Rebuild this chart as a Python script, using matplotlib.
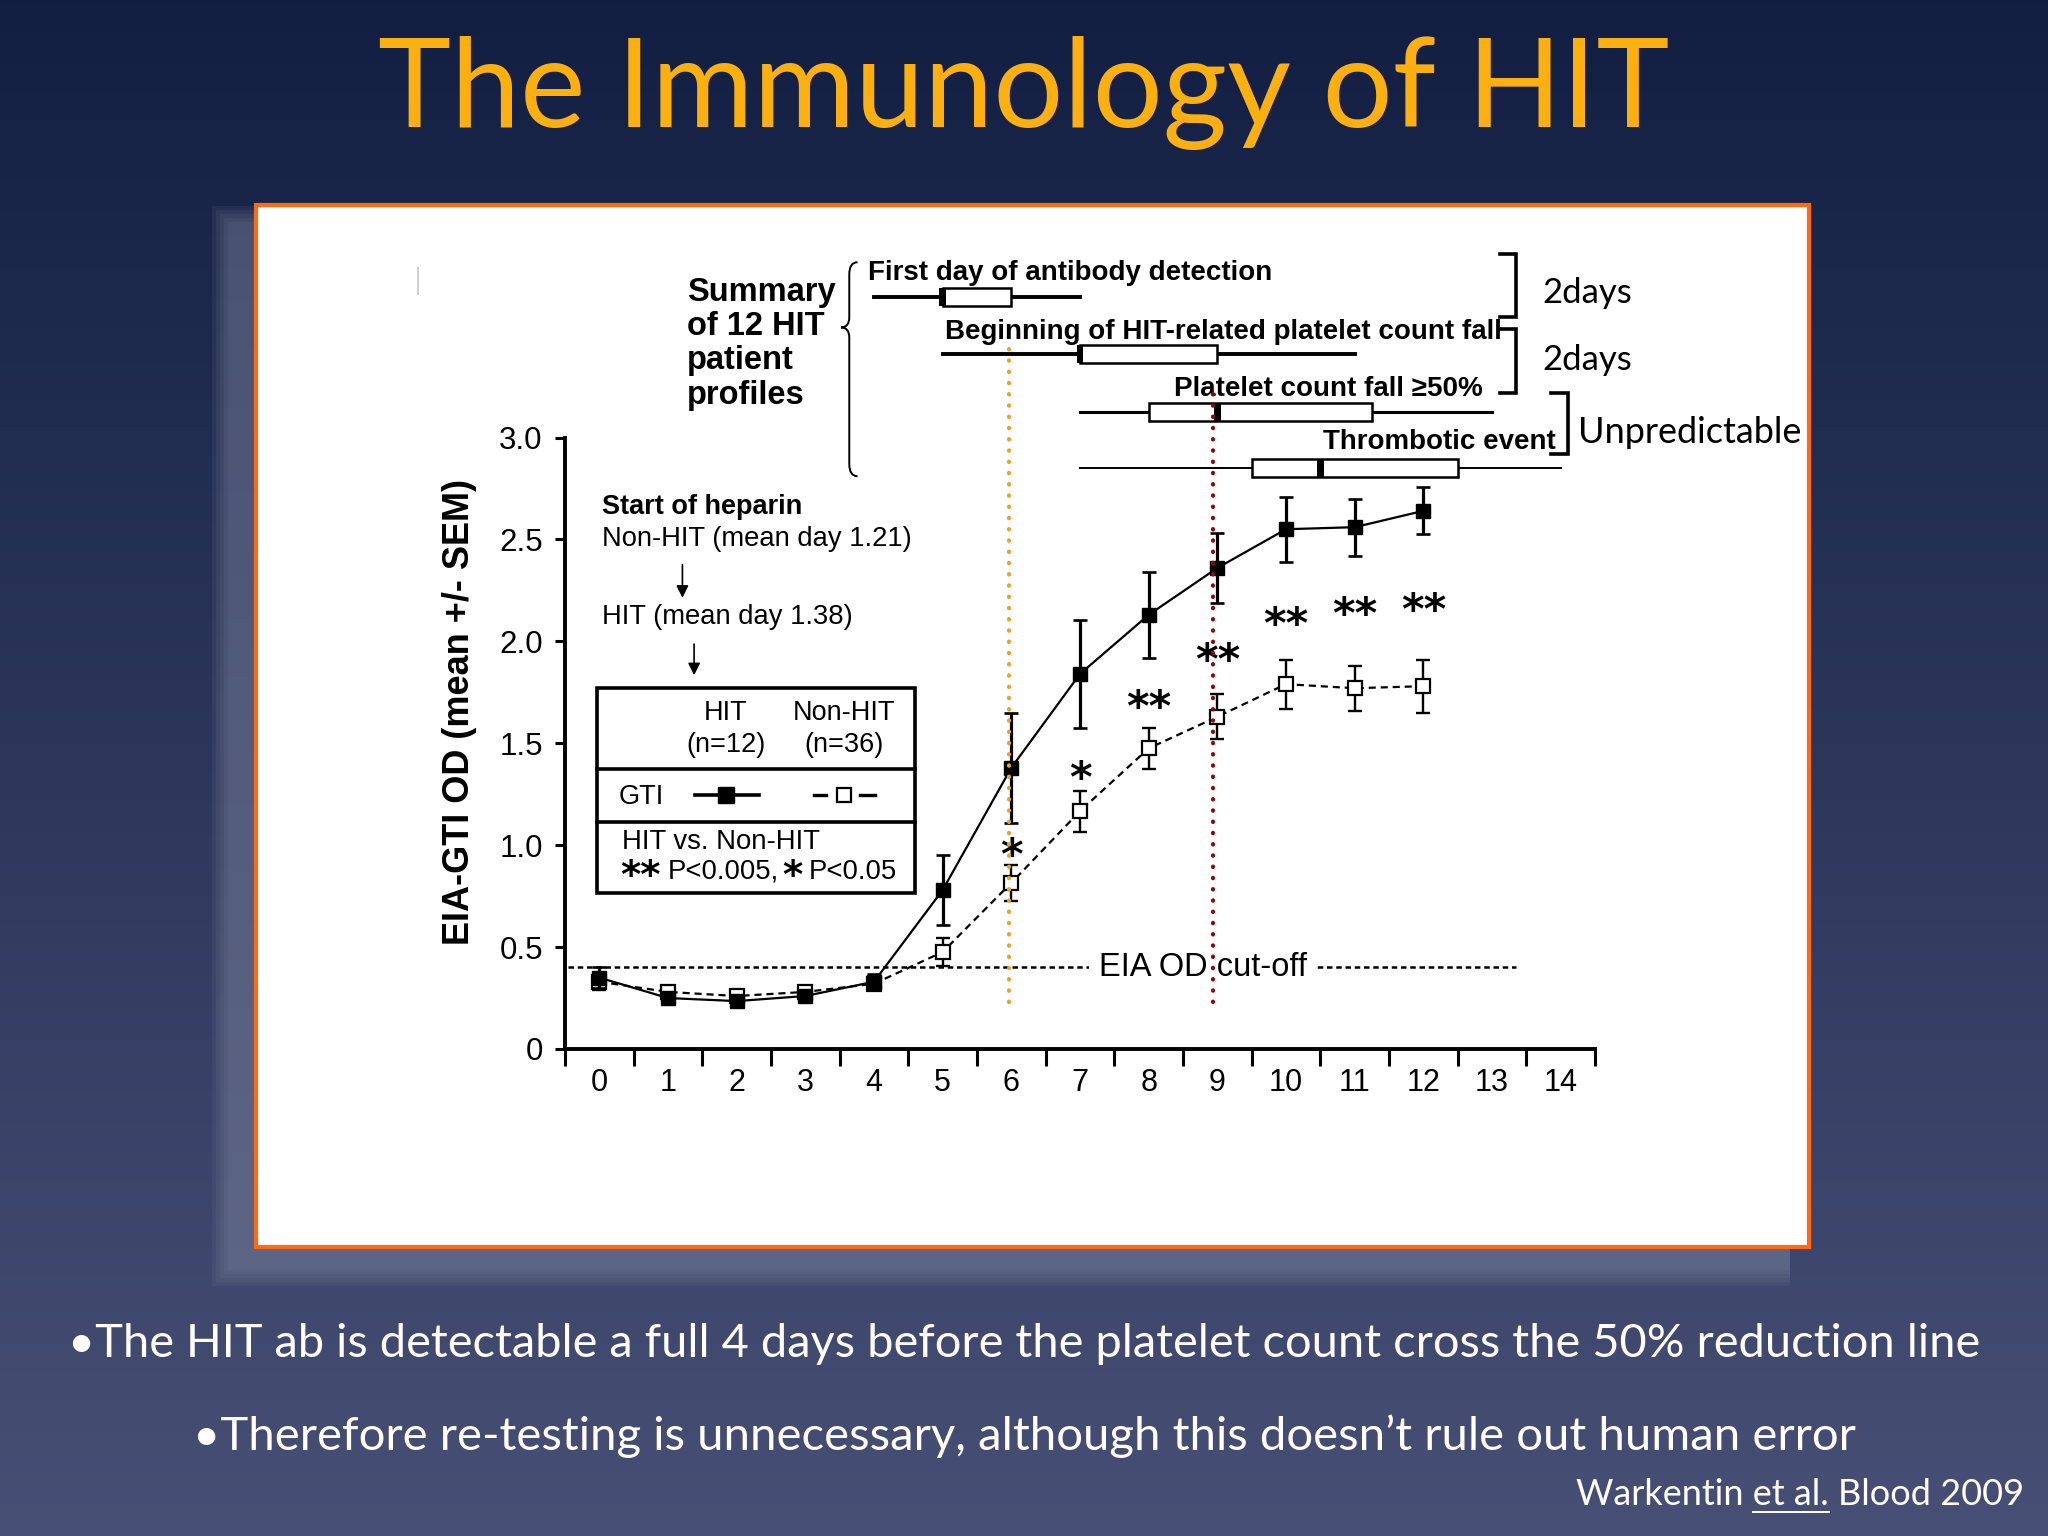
import matplotlib
matplotlib.use('Agg')
import matplotlib.pyplot as plt
import numpy as np
from matplotlib.patches import Rectangle, PathPatch
from matplotlib.path import Path
from matplotlib.lines import Line2D

# ---- data ----
days = np.arange(13)
hit_mean = [0.35, 0.25, 0.235, 0.26, 0.33, 0.78, 1.38, 1.84, 2.13, 2.36, 2.55, 2.56, 2.64]
hit_sem = [0.05, 0.03, 0.03, 0.03, 0.04, 0.17, 0.27, 0.265, 0.21, 0.17, 0.16, 0.14, 0.115]
non_mean = [0.33, 0.28, 0.26, 0.28, 0.32, 0.476, 0.815, 1.167, 1.475, 1.63, 1.79, 1.77, 1.78]
non_sem = [0.04, 0.03, 0.03, 0.03, 0.03, 0.07, 0.09, 0.10, 0.10, 0.11, 0.12, 0.11, 0.13]

star_days = [6, 7, 8, 9, 10, 11, 12]
star_marks = ['*', '*', '**', '**', '**', '**', '**']
star_y = [0.94, 1.32, 1.67, 1.90, 2.075, 2.125, 2.145]

profile_labels = ['First day of antibody detection',
                  'Beginning of HIT-related platelet count fall',
                  'Platelet count fall \u226550%',
                  'Thrombotic event']
profile_lo = [4, 5, 7, 7]
profile_q1 = [5, 7, 8, 9.5]
profile_med = [5, 7, 9, 10.5]
profile_q3 = [6, 9, 11.25, 12.5]
profile_hi = [7, 11, 13, 14]

cutoff = 0.4
heparin_nonhit = 1.21
heparin_hit = 1.38
ab_day = 6
fall_day = 9

x_ticklabels = [str(d) for d in range(15)]
y_ticks = [0, 0.5, 1.0, 1.5, 2.0, 2.5, 3.0]
y_ticklabels = ['0', '0.5', '1.0', '1.5', '2.0', '2.5', '3.0']

ARIAL = ['Liberation Sans', 'DejaVu Sans']
CAL = ['Lato', 'DejaVu Sans']
STAR = ['DejaVu Sans']

fig = plt.figure(figsize=(20.48, 15.36), dpi=100)
W, H = 2048.0, 1536.0

# background gradient
bg = fig.add_axes([0, 0, 1, 1], zorder=-10)
top = np.array([0.07, 0.12, 0.26])
bot = np.array([0.28, 0.31, 0.46])
t = np.linspace(0, 1, 256)[:, None]
grad = top[None, :] * (1 - t) + bot[None, :] * t
bg.imshow(grad[:, None, :], aspect='auto', extent=[0, 1, 0, 1])
bg.axis('off')

# soft shadow (left and below) + white panel
for i in range(5):
    e = i * 4
    x0, x1, y0, y1 = 228 - e, 1790, 222 - e, 1270 + e
    fig.patches.append(Rectangle((x0 / W, 1 - y1 / H), (x1 - x0) / W, (y1 - y0) / H,
                                 transform=fig.transFigure, facecolor='#8890a4',
                                 edgecolor='none', alpha=0.11, zorder=-6))
fig.patches.append(Rectangle((256 / W, 1 - 1247 / H), (1809 - 256) / W, (1247 - 205) / H,
                             transform=fig.transFigure, facecolor='white',
                             edgecolor='#ff6a13', linewidth=3, zorder=-2))
# faint stray mark in the pasted figure
fig.lines.append(Line2D([418 / W, 418 / W], [1 - 268 / H, 1 - 294 / H],
                        transform=fig.transFigure, color='#cfcfcf', lw=1.4))

# title
fig.text(0.5, 1 - 127 / H, 'The Immunology of HIT', ha='center', va='baseline',
         fontsize=89, color='#fbb010', family=CAL)

# ---- main chart ----
ax = fig.add_axes([565 / W, 1 - 1049 / H, 1030 / W, 611.5 / H], zorder=0)
ax.set_facecolor('none')
ax.set_xlim(-0.5, 14.5)
ax.set_ylim(0, 3.0)
for s in ['top', 'right']:
    ax.spines[s].set_visible(False)
for s in ['left', 'bottom']:
    ax.spines[s].set_linewidth(2.8)

ax.set_xticks(np.arange(-0.5, 15, 1.0))
ax.set_xticklabels([])
ax.tick_params(axis='x', which='major', length=12, width=2.2, direction='out')
ax.set_xticks(np.arange(15), minor=True)
ax.set_xticklabels(x_ticklabels, minor=True, fontsize=22, family=ARIAL)
ax.tick_params(axis='x', which='minor', length=0, pad=14)
ax.set_yticks(y_ticks)
ax.set_yticklabels(y_ticklabels, fontsize=22.5, family=ARIAL)
ax.tick_params(axis='y', length=7, width=2.2, pad=9)

ax.text(-0.102, 0.551, 'EIA-GTI OD (mean +/- SEM)', transform=ax.transAxes,
        rotation=90, ha='center', va='center', fontsize=26, fontweight='bold', family=ARIAL)

# cut-off line
ax.plot([-0.45, 13.35], [cutoff, cutoff], color='k', lw=1.8, dashes=(2.2, 1.5), zorder=2)
ax.text(8.79, cutoff, 'EIA OD cut-off', ha='center', va='center', fontsize=23.5,
        family=ARIAL, zorder=3,
        bbox=dict(facecolor='white', edgecolor='none', pad=7))

# series
ax.errorbar(days, non_mean, yerr=non_sem, fmt='none', ecolor='k', elinewidth=1.7,
            capsize=5, capthick=1.7, zorder=4)
ax.plot(days, non_mean, color='k', lw=1.6, dashes=(3.2, 2.2), marker='s', ms=10,
        mfc='white', mec='k', mew=1.6, zorder=5)
ax.errorbar(days, hit_mean, yerr=hit_sem, fmt='none', ecolor='k', elinewidth=2.3,
            capsize=5, capthick=1.9, zorder=6)
ax.plot(days, hit_mean, color='k', lw=1.6, marker='s', ms=10, mfc='k', mec='k', zorder=7)

for d, m, y in zip(star_days, star_marks, star_y):
    ax.text(d, y, m, ha='center', va='center', fontsize=31, fontweight='bold',
            family=STAR, zorder=8)

# vertical dotted markers
ax.plot([ab_day - 0.04, ab_day - 0.04], [0.23, 3.47], color='#f2a01e', lw=3.0,
        linestyle=(0, (0.1, 2.6)), dash_capstyle='round', clip_on=False, zorder=9)
ax.plot([fall_day - 0.06, fall_day - 0.06], [0.23, 3.23], color='#8b0a0a', lw=3.0,
        linestyle=(0, (0.1, 2.6)), dash_capstyle='round', clip_on=False, zorder=9)

# heparin annotations
ax.text(0.04, 2.66, 'Start of heparin', ha='left', va='center', fontsize=19.5,
        fontweight='bold', family=ARIAL)
ax.text(0.04, 2.50, 'Non-HIT (mean day 1.21)', ha='left', va='center', fontsize=19.7, family=ARIAL)
ax.text(0.04, 2.12, 'HIT (mean day 1.38)', ha='left', va='center', fontsize=19.7, family=ARIAL)
ax.annotate('', xy=(heparin_nonhit, 2.20), xytext=(heparin_nonhit, 2.39),
            arrowprops=dict(arrowstyle='-|>', color='k', lw=1.2, mutation_scale=18))
ax.annotate('', xy=(heparin_hit, 1.82), xytext=(heparin_hit, 2.00),
            arrowprops=dict(arrowstyle='-|>', color='k', lw=1.2, mutation_scale=18))

# legend table
ax.add_patch(Rectangle((-0.03, 0.763), 4.62, 1.772 - 0.763, facecolor='white',
                       edgecolor='k', lw=2.6, zorder=3))
for yy in [1.376, 1.112]:
    ax.plot([-0.03, 4.59], [yy, yy], color='k', lw=2.6, zorder=4)
ax.text(1.84, 1.648, 'HIT', ha='center', va='center', fontsize=19.5, family=ARIAL, zorder=5)
ax.text(1.84, 1.49, '(n=12)', ha='center', va='center', fontsize=19.5, family=ARIAL, zorder=5)
ax.text(3.56, 1.648, 'Non-HIT', ha='center', va='center', fontsize=19.5, family=ARIAL, zorder=5)
ax.text(3.56, 1.49, '(n=36)', ha='center', va='center', fontsize=19.5, family=ARIAL, zorder=5)
ax.text(0.28, 1.237, 'GTI', ha='left', va='center', fontsize=19.5, family=ARIAL, zorder=5)
ax.plot([1.39, 2.33], [1.244, 1.244], color='k', lw=2.6, zorder=5)
ax.plot([1.84], [1.244], marker='s', ms=11, color='k', zorder=6)
ax.plot([3.13, 3.30], [1.244, 1.244], color='k', lw=2.4, zorder=5)
ax.plot([3.80, 4.02], [1.244, 1.244], color='k', lw=2.4, zorder=5)
ax.plot([3.56], [1.244], marker='s', ms=10, mfc='white', mec='k', mew=1.6, zorder=6)
ax.text(0.33, 1.016, 'HIT vs. Non-HIT', ha='left', va='center', fontsize=19.8, family=ARIAL, zorder=5)
ax.text(0.30, 0.845, '**', ha='left', va='center', fontsize=28, fontweight='bold',
        family=STAR, zorder=5)
ax.text(1.0, 0.869, 'P<0.005,', ha='left', va='center', fontsize=19.8, family=ARIAL, zorder=5)
ax.text(2.66, 0.845, '*', ha='left', va='center', fontsize=28, fontweight='bold',
        family=STAR, zorder=5)
ax.text(3.05, 0.869, 'P<0.05', ha='left', va='center', fontsize=19.8, family=ARIAL, zorder=5)

# ---- summary of HIT patient profiles ----
row_y = [3.69, 3.41, 3.125, 2.85]
row_lw = [2.8, 2.8, 2.2, 1.4]
box_h = 0.09
for i in range(4):
    y = row_y[i]
    ax.plot([profile_lo[i], profile_hi[i]], [y, y], color='k', lw=row_lw[i],
            clip_on=False, zorder=3)
    ax.add_patch(Rectangle((profile_q1[i], y - box_h / 2), profile_q3[i] - profile_q1[i], box_h,
                           facecolor='white', edgecolor='k', lw=1.8, clip_on=False, zorder=4))
    ax.add_patch(Rectangle((profile_med[i] - 0.05, y - box_h / 2), 0.1, box_h,
                           facecolor='k', edgecolor='none', clip_on=False, zorder=5))

ax.text(3.91, 3.807, profile_labels[0], ha='left', va='center', fontsize=20,
        fontweight='bold', family=ARIAL)
ax.text(5.03, 3.52, profile_labels[1], ha='left', va='center', fontsize=20,
        fontweight='bold', family=ARIAL)
ax.text(12.87, 3.24, profile_labels[2], ha='right', va='center', fontsize=20,
        fontweight='bold', family=ARIAL)
ax.text(13.93, 2.98, profile_labels[3], ha='right', va='center', fontsize=20,
        fontweight='bold', family=ARIAL)
ax.text(1.28, 3.46, 'Summary\nof 12 HIT\npatient\nprofiles', ha='left', va='center',
        fontsize=23.5, fontweight='bold', family=ARIAL, linespacing=1.14)

# curly brace
bx, tipx, y0, y1, ym = 3.64, 3.52, 3.86, 2.81, 3.54
verts = [(bx + 0.12, y0), (bx, y0), (bx, y0 - 0.06),
         (bx, ym + 0.05), (bx, ym), (tipx, ym),
         (bx, ym), (bx, ym - 0.05),
         (bx, y1 + 0.06), (bx, y1), (bx + 0.12, y1)]
codes = [Path.MOVETO, Path.CURVE3, Path.CURVE3,
         Path.LINETO, Path.CURVE3, Path.CURVE3,
         Path.CURVE3, Path.CURVE3,
         Path.LINETO, Path.CURVE3, Path.CURVE3]
ax.add_patch(PathPatch(Path(verts, codes), facecolor='none', edgecolor='k', lw=1.4,
                       clip_on=False))


# right brackets
def bracket(x, xl, ya, yb, lw=2.6):
    ax.plot([xl, x, x, xl], [ya, ya, yb, yb], color='k', lw=lw, clip_on=False,
            solid_joinstyle='miter')


bracket(13.35, 13.12, 3.90, 3.59)
bracket(13.35, 13.12, 3.53, 3.22)
bracket(14.10, 13.86, 3.22, 2.92)

fig.text(1542 / W, 1 - 303 / H, '2days', ha='left', va='baseline', fontsize=25, family=CAL)
fig.text(1542 / W, 1 - 370 / H, '2days', ha='left', va='baseline', fontsize=25, family=CAL)
fig.text(1578 / W, 1 - 443 / H, 'Unpredictable', ha='left', va='baseline', fontsize=26, family=CAL)

# ---- bottom text ----
fig.text(0.5, 1 - 1357 / H,
         '\u2022The HIT ab is detectable a full 4 days before the platelet count cross the 50% reduction line',
         ha='center', va='baseline', fontsize=33.8, color='white', family=CAL)
fig.text(0.5, 1 - 1450 / H,
         '\u2022Therefore re-testing is unnecessary, although this doesn\u2019t rule out human error',
         ha='center', va='baseline', fontsize=34, color='white', family=CAL)

ref = 'Warkentin et al. Blood 2009'
ref_x, ref_y = 2024 / W, 1 - 1505 / H
rt = fig.text(ref_x, ref_y, ref, ha='right', va='baseline', fontsize=26,
              color='white', family=CAL)
fig.canvas.draw()
r = fig.canvas.get_renderer()
prop = rt.get_fontproperties()
w_full = r.get_text_width_height_descent(ref, prop, ismath=False)[0]
w_pre = r.get_text_width_height_descent('Warkentin et al.', prop, ismath=False)[0]
w_et = r.get_text_width_height_descent('et al.', prop, ismath=False)[0]
x_end = ref_x * W - w_full + w_pre
fig.lines.append(Line2D([(x_end - w_et) / W, x_end / W], [ref_y - 7 / H, ref_y - 7 / H],
                        transform=fig.transFigure, color='white', lw=1.4))

fig.savefig('out.png', dpi=100)
